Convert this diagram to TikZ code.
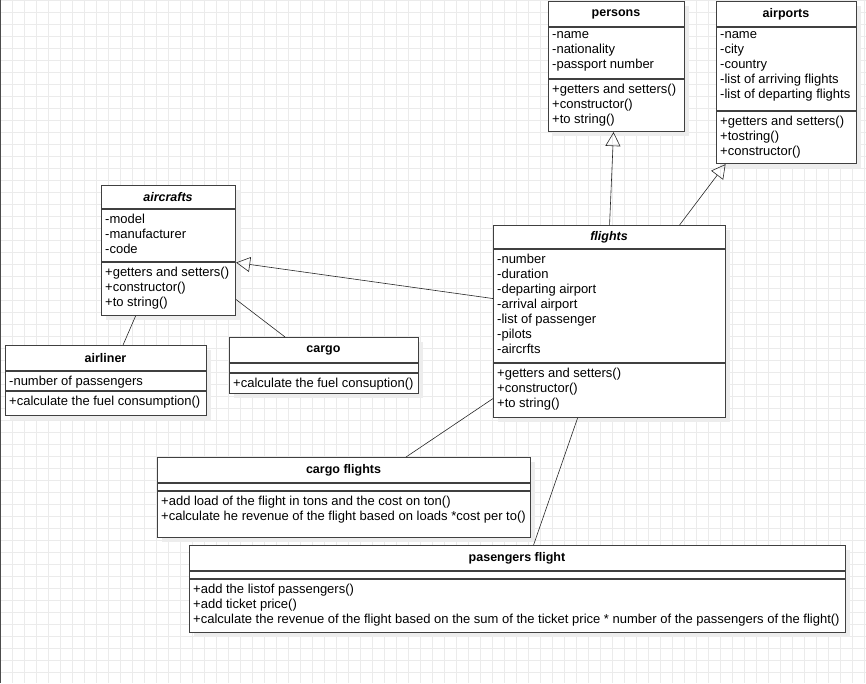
\documentclass[tikz,border=0pt]{standalone}
\usepackage{fontspec}
\setmainfont{Liberation Sans}
\usetikzlibrary{positioning,arrows.meta,calc}

% one class box: name, x1, x2, y1, sep1, sep2, y2, title, attributes
\newcommand{\umlclass}[9]{
	\fill[black!7] (#2+5,#4+5) rectangle (#3+5,#7+5);
	\node[cls, anchor=north west, minimum width=#3-#2, minimum height=#7-#4] (#1) at (#2,#4) {};
	\draw[sep] (#2,#5) -- (#3,#5);
	\draw[sep] (#2,#6) -- (#3,#6);
	\coordinate (#1-a) at (#2,#5);
	\coordinate (#1-o) at (#2,#6);
	\node[ttl] at ($(#2,#4)!0.5!(#3,#5)$) {#8};
	\node[items, anchor=north west] at (#1-a) {#9};
}

\begin{document}
\begin{tikzpicture}[
		x=1pt, y=-1pt,
		cls/.style={
			draw=black!75,
			fill=white,
			line width=1.1pt,
			inner sep=0pt
			},
		sep/.style={
			draw=black!75,
			line width=1.1pt
			},
		ttl/.style={
			font=\fontsize{12.5}{14}\selectfont\bfseries
			},
		items/.style={
			align=left,
			inner xsep=4pt,
			inner ysep=4.5pt,
			font=\fontsize{13}{15}\selectfont
			},
		line/.style={
			draw=black!85,
			line width=0.6pt
			},
		inherit/.style={
			line,
			-{Triangle[open, length=14pt, width=15pt]}
			}]
	\useasboundingbox (0,0) rectangle (866,683);
	% background grid
	\draw[black!8, line width=0.5pt, step=12pt] (0,0) grid (866,683);
	\draw[black!70, line width=1pt] (0.5,0) -- (0.5,683);

	% Place nodes
	\umlclass{persons}{548}{684}{1}{27}{79}{131}{persons}{-name\\-nationality\\-passport number}
	\node[items, anchor=north west] at (persons-o) {+getters and setters()\\+constructor()\\+to string()};

	\umlclass{airports}{716}{856}{1}{27}{111}{163}{airports}{-name\\-city\\-country\\-list of arriving flights\\-list of departing flights}
	\node[items, anchor=north west] at (airports-o) {+getters and setters()\\+tostring()\\+constructor()};

	\umlclass{aircrafts}{101}{235}{185}{209}{262}{315}{\itshape aircrafts}{-model\\-manufacturer\\-code}
	\node[items, anchor=north west] at (aircrafts-o) {+getters and setters()\\+constructor()\\+to string()};

	\umlclass{flights}{493}{725}{225}{249}{363}{417}{\itshape flights}{-number\\-duration\\-departing airport\\-arrival airport\\-list of passenger\\-pilots\\-aircrfts}
	\node[items, anchor=north west] at (flights-o) {+getters and setters()\\+constructor()\\+to string()};

	\umlclass{airliner}{5}{206}{345}{371}{391}{415}{airliner}{-number of passengers}
	\node[items, anchor=north west] at (airliner-o) {+calculate the fuel consumption()};

	\umlclass{cargo}{229}{418}{337}{363}{373}{393}{cargo}{}
	\node[items, anchor=north west] at (cargo-o) {+calculate the fuel consuption()};

	\umlclass{cargoflights}{157}{530}{457}{483}{491}{537}{cargo flights}{}
	\node[items, anchor=north west] at (cargoflights-o) {+add load of the flight in tons and the cost on ton()\\+calculate he revenue of the flight based on loads *cost per to()};

	\umlclass{passflight}{189}{845}{545}{571}{579}{632}{pasengers flight}{}
	\node[items, anchor=north west] at (passflight-o) {+add the listof passengers()\\+add ticket price()\\+calculate the revenue of the flight based on the sum of the ticket price * number of the passengers of the flight()};

	% Draw edges
	\path[inherit] (flights.north) -- ([xshift=-3pt]persons.south);
	\path[inherit] ([xshift=70pt]flights.north) -- ([xshift=-61pt]airports.south);
	\path[inherit] ([yshift=23pt]flights.west) -- ([yshift=-12pt]aircrafts.east);
	\path[line] ([xshift=-33pt]aircrafts.south) -- ([xshift=17pt]airliner.north);
	\path[line] ([yshift=-49pt]aircrafts.east) -- ([xshift=-39pt]cargo.north);
	\path[line] ([yshift=-77pt]flights.west) -- ([xshift=62pt]cargoflights.north);
	\path[line] ([xshift=-32pt]flights.south) -- ([xshift=16pt]passflight.north);
\end{tikzpicture}
\end{document}
